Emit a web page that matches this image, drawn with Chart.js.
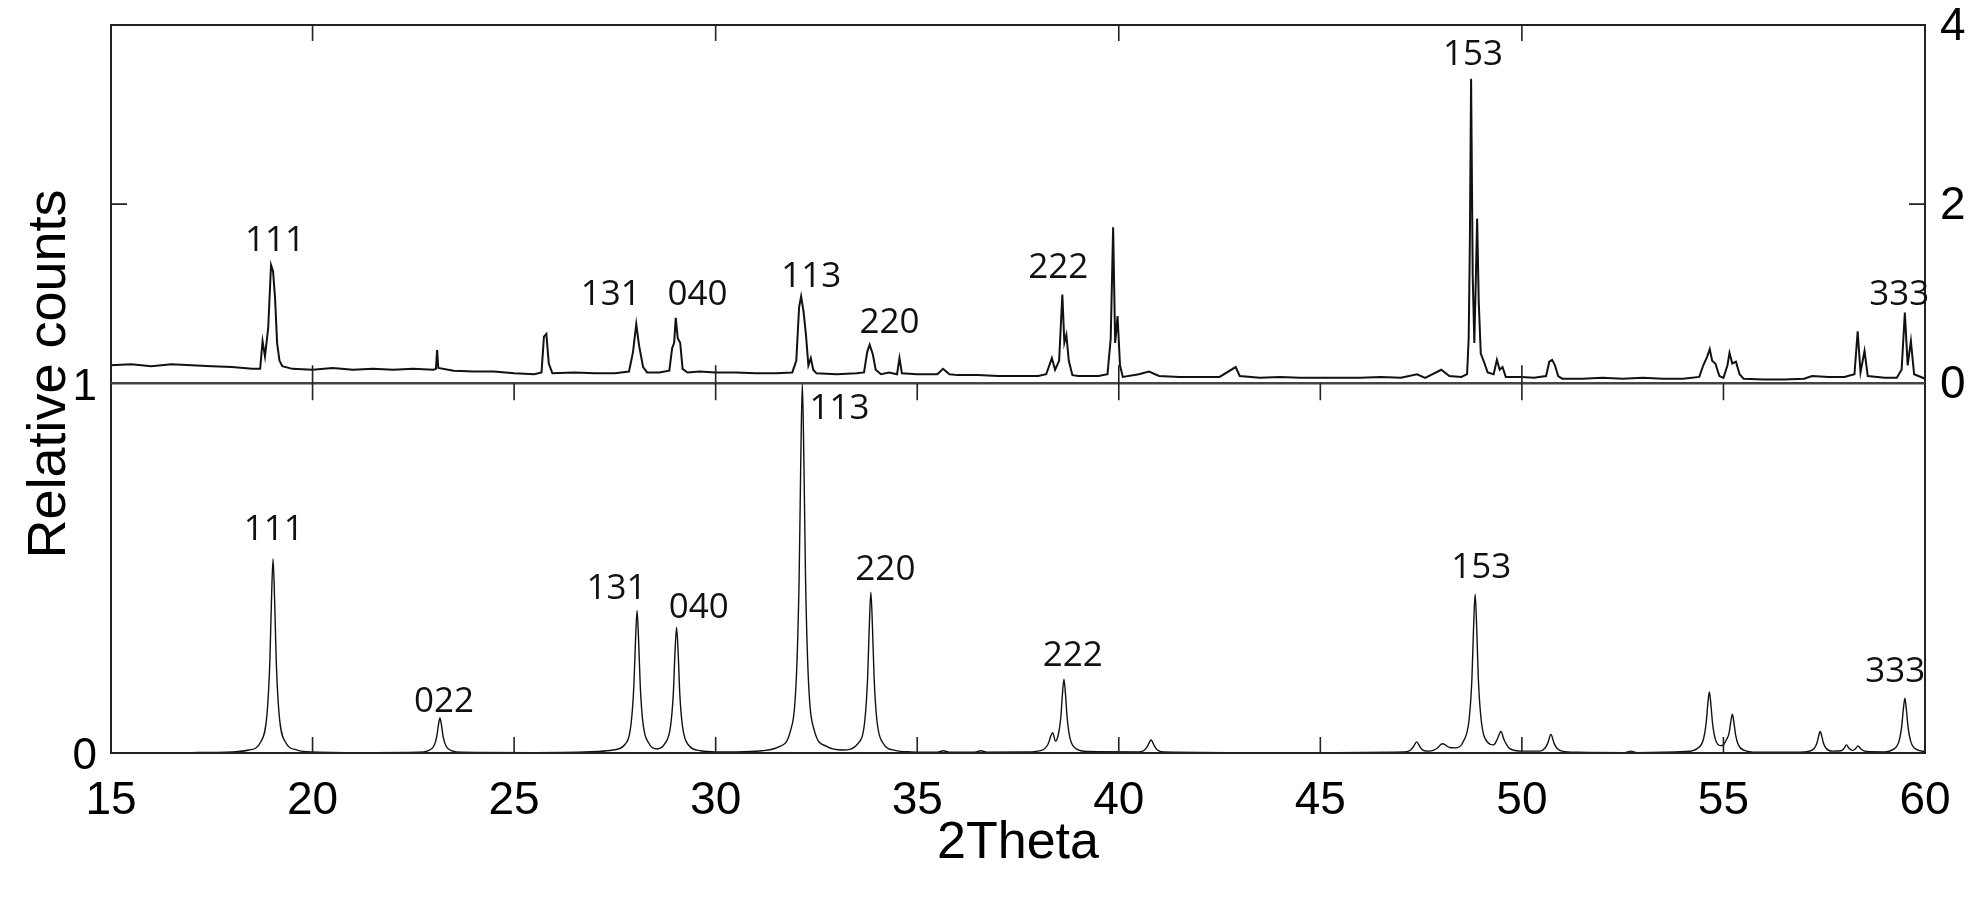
<!DOCTYPE html>
<html>
<head>
<meta charset="utf-8">
<script src="https://cdn.jsdelivr.net/npm/chart.js@4.4.1/dist/chart.umd.min.js"></script>
<style>
  html, body { margin: 0; padding: 0; background: #fff; }
  canvas { display: block; }
</style>
</head>
<body>
<canvas id="xrd" width="1987" height="918"></canvas>
<script>
// tick values
const xTicks = [15, 20, 25, 30, 35, 40, 45, 50, 55, 60];
const topPanelTicks = [20, 30, 40, 50];
const bottomPanelTicks = [20, 25, 30, 35, 40, 45, 50, 55];
const simulatedTicks = [0, 1];
const measuredTicks = [0, 2, 4];

// measured pattern (top panel, right axis) [2theta, counts]
const measuredPattern = [
  [15.0,0.20],[15.5,0.21],[16.0,0.19],[16.5,0.21],[17.0,0.20],[17.5,0.19],[18.0,0.18],[18.5,0.16],
  [18.7,0.16],[18.76,0.47],[18.82,0.30],[18.9,0.62],[18.97,1.32],[19.02,1.25],[19.07,0.95],[19.12,0.45],[19.18,0.25],[19.25,0.19],
  [19.5,0.16],[20.0,0.15],[20.5,0.17],[21.0,0.15],[21.5,0.16],[22.0,0.15],[22.5,0.16],[23.0,0.15],
  [23.06,0.16],[23.09,0.37],[23.12,0.17],[23.5,0.14],[24.0,0.13],[24.5,0.13],[25.0,0.11],[25.5,0.10],
  [25.68,0.12],[25.74,0.52],[25.80,0.55],[25.86,0.22],[25.95,0.11],[26.5,0.12],[27.0,0.11],[27.5,0.11],
  [27.85,0.13],[27.95,0.35],[28.03,0.66],[28.1,0.42],[28.2,0.18],[28.3,0.12],[28.6,0.12],
  [28.85,0.14],[28.92,0.39],[28.97,0.45],[29.01,0.73],[29.06,0.50],[29.12,0.45],[29.18,0.16],[29.3,0.12],
  [29.6,0.13],[30.0,0.12],[30.5,0.12],[31.0,0.11],[31.5,0.11],
  [31.9,0.12],[32.0,0.25],[32.07,0.85],[32.12,0.97],[32.18,0.80],[32.24,0.54],[32.3,0.20],[32.36,0.28],[32.42,0.15],
  [32.5,0.11],[33.0,0.10],[33.5,0.11],
  [33.68,0.12],[33.76,0.35],[33.82,0.43],[33.9,0.32],[33.97,0.15],[34.1,0.10],[34.3,0.12],[34.5,0.10],[34.56,0.28],[34.62,0.11],
  [35.0,0.10],[35.5,0.10],[35.64,0.16],[35.8,0.10],[36.0,0.09],[36.5,0.09],[37.0,0.08],[37.5,0.08],[38.0,0.08],
  [38.2,0.10],[38.34,0.28],[38.42,0.15],[38.52,0.25],[38.60,0.99],[38.65,0.45],[38.70,0.54],[38.76,0.25],[38.85,0.09],
  [39.0,0.08],[39.5,0.08],
  [39.72,0.10],[39.80,0.50],[39.86,1.74],[39.91,0.45],[39.97,0.75],[40.03,0.20],[40.1,0.07],
  [40.5,0.10],[40.75,0.13],[41.0,0.08],[41.5,0.07],[42.0,0.07],[42.5,0.07],[42.9,0.18],[43.0,0.08],
  [43.5,0.06],[44.0,0.07],[44.5,0.06],[45.0,0.06],[45.5,0.06],[46.0,0.06],[46.5,0.07],[47.0,0.06],
  [47.4,0.10],[47.6,0.06],[48.0,0.15],[48.2,0.08],[48.5,0.07],
  [48.64,0.10],[48.68,0.50],[48.71,1.60],[48.74,3.40],[48.78,1.20],[48.82,0.45],[48.86,1.20],[48.89,1.84],[48.93,0.90],[48.98,0.33],
  [49.05,0.25],[49.15,0.12],[49.3,0.10],[49.38,0.26],[49.45,0.15],[49.52,0.18],[49.6,0.07],
  [50.0,0.07],[50.3,0.06],[50.6,0.08],[50.68,0.24],[50.75,0.26],[50.82,0.20],[50.9,0.08],
  [51.0,0.05],[51.5,0.05],[52.0,0.06],[52.5,0.05],[53.0,0.06],[53.5,0.05],[54.0,0.05],
  [54.4,0.07],[54.5,0.20],[54.6,0.30],[54.66,0.38],[54.72,0.25],[54.8,0.22],[54.9,0.08],
  [55.0,0.06],[55.1,0.20],[55.15,0.34],[55.22,0.22],[55.31,0.24],[55.4,0.10],[55.5,0.05],
  [56.0,0.04],[56.5,0.04],[57.0,0.05],[57.2,0.08],[57.6,0.07],[58.0,0.07],
  [58.25,0.10],[58.33,0.58],[58.4,0.12],[58.5,0.36],[58.58,0.08],[59.0,0.06],[59.3,0.06],
  [59.42,0.15],[59.50,0.79],[59.57,0.20],[59.65,0.47],[59.73,0.10],[60.0,0.05]
];

// simulated pattern (bottom panel, left axis) [2theta, relative counts]
const simulatedPattern = [
  [15,0],[17,0.001],[18,0.003],[18.42,0.008],[18.72,0.031],[18.87,0.105],[18.94,0.246],[18.98,0.41],[19.02,0.525],
  [19.06,0.41],[19.1,0.246],[19.17,0.105],[19.32,0.031],[19.62,0.008],[20,0.003],[21.5,0.001],
  [22.6,0.002],[22.86,0.006],[23.01,0.019],[23.08,0.044],[23.12,0.074],[23.16,0.095],[23.2,0.074],[23.24,0.044],
  [23.31,0.019],[23.46,0.006],[23.7,0.002],[25.5,0.001],
  [27.05,0.004],[27.45,0.008],[27.75,0.023],[27.9,0.078],[27.97,0.18],[28.01,0.3],[28.05,0.385],[28.09,0.3],
  [28.13,0.18],[28.2,0.078],[28.35,0.025],[28.54,0.011],[28.73,0.024],[28.88,0.072],[28.95,0.162],[28.99,0.27],
  [29.03,0.34],[29.07,0.27],[29.11,0.16],[29.18,0.07],[29.33,0.021],[29.63,0.006],[30,0.003],
  [30.5,0.003],[31.15,0.006],[31.55,0.016],[31.85,0.058],[32,0.2],[32.07,0.47],[32.11,0.78],[32.15,1],
  [32.19,0.78],[32.23,0.47],[32.3,0.2],[32.45,0.06],[32.75,0.018],[33.15,0.008],
  [33.55,0.028],[33.7,0.088],[33.77,0.205],[33.81,0.34],[33.85,0.435],[33.89,0.34],[33.93,0.205],[34,0.088],
  [34.15,0.027],[34.45,0.007],[34.85,0.003],
  [35.5,0.002],[35.65,0.006],[35.8,0.002],[36.43,0.002],[36.58,0.006],[36.73,0.002],
  [37.7,0.003],[38.1,0.008],[38.25,0.025],[38.31,0.045],[38.36,0.055],[38.43,0.032],[38.5,0.05],[38.56,0.094],
  [38.6,0.156],[38.64,0.2],[38.68,0.156],[38.72,0.094],[38.79,0.04],[38.94,0.012],[39.24,0.004],
  [40.5,0.003],[40.65,0.009],[40.72,0.02],[40.8,0.035],[40.88,0.02],[40.95,0.009],[41.1,0.003],[44,0.001],
  [47.1,0.003],[47.24,0.008],[47.31,0.017],[47.39,0.03],[47.47,0.017],[47.54,0.008],[47.7,0.005],
  [47.8,0.007],[47.92,0.015],[48.0,0.024],[48.04,0.025],[48.1,0.022],[48.2,0.015],[48.35,0.014],
  [48.54,0.03],[48.69,0.09],[48.76,0.2],[48.8,0.335],[48.84,0.43],[48.88,0.335],[48.92,0.2],[48.99,0.09],
  [49.14,0.03],[49.3,0.022],[49.4,0.04],[49.48,0.058],[49.56,0.035],[49.7,0.012],[50,0.005],
  [50.45,0.005],[50.57,0.013],[50.64,0.026],[50.72,0.05],[50.8,0.026],[50.87,0.013],[51,0.005],[51.4,0.002],
  [52.55,0.001],[52.7,0.005],[52.85,0.001],
  [54.05,0.004],[54.35,0.012],[54.5,0.036],[54.57,0.08],[54.61,0.13],[54.65,0.165],[54.69,0.13],[54.73,0.08],
  [54.8,0.037],[54.93,0.02],[55,0.022],[55.07,0.035],[55.14,0.054],[55.18,0.083],[55.22,0.105],[55.26,0.083],
  [55.3,0.05],[55.37,0.022],[55.52,0.007],[55.82,0.002],
  [56.9,0.002],[57.1,0.004],[57.25,0.012],[57.32,0.027],[57.36,0.045],[57.4,0.058],[57.44,0.045],[57.48,0.027],
  [57.55,0.012],[57.7,0.005],
  [57.92,0.006],[57.99,0.012],[58.05,0.022],[58.12,0.012],[58.2,0.007],[58.27,0.011],[58.34,0.019],[58.41,0.011],[58.55,0.004],
  [59,0.003],[59.2,0.009],[59.35,0.03],[59.42,0.07],[59.46,0.115],[59.5,0.148],[59.54,0.115],[59.58,0.07],
  [59.65,0.03],[59.8,0.009],[60,0.004]
];

// hkl labels: [text, 2theta, value at text baseline]
const measuredLabels = [
  ['111', 19.07, 1.475], ['131', 27.40, 0.872], ['040', 29.55, 0.872], ['113', 32.37, 1.076],
  ['220', 34.31, 0.555], ['222', 38.50, 1.170], ['153', 48.79, 3.553], ['333', 59.36, 0.872]
];
const simulatedLabels = [
  ['111', 19.04, 0.576], ['022', 23.26, 0.112], ['131', 27.54, 0.418], ['040', 29.58, 0.364],
  ['113', 33.07, 0.905], ['220', 34.21, 0.468], ['222', 38.86, 0.235], ['153', 48.99, 0.473],
  ['333', 59.26, 0.193]
];

const ink = '#111';
const frameColor = '#222';
const axisFont = "'Liberation Sans', Arial, sans-serif";

const toPoints = (arr) => arr.map(([x, y]) => ({ x: x, y: y }));

const framePlugin = {
  id: 'frame',
  afterDatasetsDraw(chart) {
    const { ctx, chartArea: a } = chart;
    const { x, y, y2 } = chart.scales;
    const mid = y2.getPixelForValue(0);
    ctx.save();
    ctx.strokeStyle = frameColor;
    ctx.lineWidth = 2;
    ctx.strokeRect(a.left, a.top, a.right - a.left, a.bottom - a.top);
    ctx.strokeStyle = '#444';
    ctx.lineWidth = 2.5;
    ctx.beginPath();
    ctx.moveTo(a.left, mid);
    ctx.lineTo(a.right, mid);
    ctx.stroke();

    ctx.strokeStyle = frameColor;
    ctx.lineWidth = 1.6;
    ctx.beginPath();
    topPanelTicks.forEach((v) => {
      const px = x.getPixelForValue(v);
      ctx.moveTo(px, a.top);
      ctx.lineTo(px, a.top + 16);
      ctx.moveTo(px, mid);
      ctx.lineTo(px, mid - 18);
    });
    bottomPanelTicks.forEach((v) => {
      const px = x.getPixelForValue(v);
      ctx.moveTo(px, mid);
      ctx.lineTo(px, mid + 17);
      ctx.moveTo(px, a.bottom);
      ctx.lineTo(px, a.bottom - 16);
    });
    const t2 = y2.getPixelForValue(2);
    ctx.moveTo(a.left, t2);
    ctx.lineTo(a.left + 16, t2);
    ctx.moveTo(a.right, t2);
    ctx.lineTo(a.right - 16, t2);
    ctx.stroke();

    // peak indices
    ctx.fillStyle = ink;
    ctx.font = "35px 'Open Sans', sans-serif";
    ctx.textAlign = 'center';
    ctx.textBaseline = 'alphabetic';
    measuredLabels.forEach(([t, tt, h]) => {
      ctx.fillText(t, x.getPixelForValue(tt), y2.getPixelForValue(h));
    });
    simulatedLabels.forEach(([t, tt, h]) => {
      ctx.fillText(t, x.getPixelForValue(tt), y.getPixelForValue(h));
    });
    ctx.restore();
  }
};

new Chart(document.getElementById('xrd'), {
  type: 'line',
  data: {
    datasets: [
      {
        label: 'measured',
        data: toPoints(measuredPattern),
        yAxisID: 'y2',
        borderColor: ink,
        borderWidth: 2,
        pointRadius: 0,
        tension: 0
      },
      {
        label: 'simulated',
        data: toPoints(simulatedPattern),
        yAxisID: 'y',
        borderColor: ink,
        borderWidth: 1.4,
        pointRadius: 0,
        cubicInterpolationMode: 'monotone'
      }
    ]
  },
  options: {
    responsive: false,
    animation: false,
    events: [],
    layout: { padding: { top: 25, left: 0, right: 0, bottom: 0 } },
    plugins: {
      legend: { display: false },
      tooltip: { enabled: false }
    },
    scales: {
      x: {
        type: 'linear',
        position: 'bottom',
        min: 15,
        max: 60,
        afterBuildTicks: (s) => { s.ticks = xTicks.map((v) => ({ value: v })); },
        afterFit: (s) => { s.height = 165; s.paddingLeft = 0; s.paddingRight = 0; },
        grid: { display: false, drawTicks: false },
        border: { display: false },
        ticks: {
          autoSkip: false,
          maxRotation: 0,
          padding: 21,
          color: '#000',
          font: { family: axisFont, size: 46 }
        },
        title: {
          display: true,
          text: '2Theta',
          color: '#000',
          font: { family: axisFont, size: 52 },
          padding: { top: 0, bottom: 43 }
        }
      },
      y: {
        type: 'linear',
        position: 'left',
        min: 0,
        max: 1.97,
        afterBuildTicks: (s) => { s.ticks = simulatedTicks.map((v) => ({ value: v })); },
        afterFit: (s) => { s.width = 111; s.paddingTop = 0; s.paddingBottom = 0; },
        grid: { display: false, drawTicks: false },
        border: { display: false },
        ticks: {
          padding: 14,
          labelOffset: 4,
          color: '#000',
          font: { family: axisFont, size: 44 }
        },
        title: {
          display: true,
          // two leading spaces lift the centred title to where the original sits
          text: '  Relative counts',
          color: '#000',
          font: { family: axisFont, size: 54 },
          padding: { top: 18, bottom: 0 }
        }
      },
      y2: {
        type: 'linear',
        position: 'right',
        min: -4.13,
        max: 4,
        afterBuildTicks: (s) => { s.ticks = measuredTicks.map((v) => ({ value: v })); },
        afterFit: (s) => { s.width = 62; s.paddingTop = 0; s.paddingBottom = 0; },
        grid: { display: false, drawTicks: false },
        border: { display: false },
        ticks: {
          padding: 15,
          labelOffset: 2,
          color: '#000',
          font: { family: axisFont, size: 46 }
        }
      }
    }
  },
  plugins: [framePlugin]
});
</script>
</body>
</html>
